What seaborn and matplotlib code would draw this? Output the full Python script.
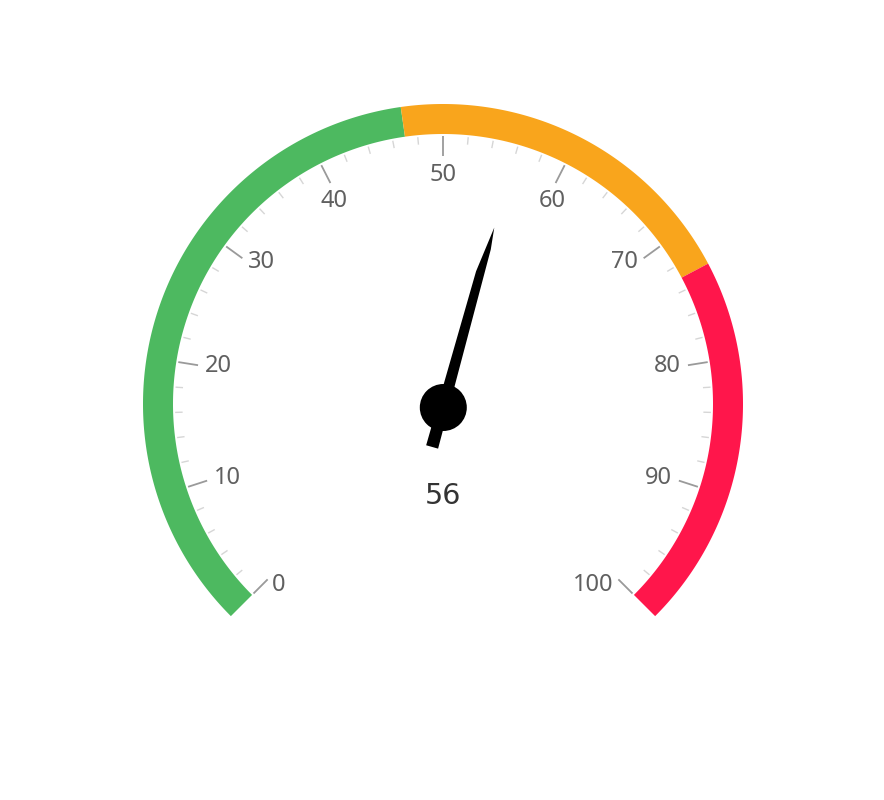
import numpy as np
import matplotlib
matplotlib.use("Agg")
import matplotlib.pyplot as plt
from matplotlib.patches import Circle, Polygon
import seaborn as sns

# gauge data
gauge_min, gauge_max = 0, 100
band_edges = [0, 47, 73, 100]
band_colors = ["#4DB960", "#F9A51C", "#FF164B"]
major_ticks = list(range(0, 101, 10))
minor_ticks = [v for v in range(0, 101, 2) if v % 10]
tick_labels = [str(v) for v in major_ticks]
needle_value = 56

sns.set_theme(style="white")
plt.rcParams['font.family'] = ['Noto Sans', 'DejaVu Sans']

fig = plt.figure(figsize=(8.84, 8), dpi=100)
ax = fig.add_axes([0, 0, 1, 1])
ax.set_xlim(0, 884)
ax.set_ylim(800, 0)
ax.axis('off')

# geometry (pixels)
cx, cy = 443, 404
R = 300
pivot = (443.3, 407.5)


def ang(v):
    return np.deg2rad(225 - (np.asarray(v) - gauge_min) / (gauge_max - gauge_min) * 270)


def pt(v, r):
    a = ang(v)
    return cx + r * np.cos(a), cy - r * np.sin(a)


# colour bands
for lo, hi, col in zip(band_edges[:-1], band_edges[1:], band_colors):
    t = np.linspace(lo, hi, 200)
    xo, yo = pt(t, R)
    xi, yi = pt(t[::-1], 0.9 * R)
    ax.fill(np.concatenate([xo, xi]), np.concatenate([yo, yi]), color=col, lw=0)

# ticks
for v in minor_ticks:
    x0, y0 = pt(v, 268)
    x1, y1 = pt(v, 260.5)
    ax.plot([x0, x1], [y0, y1], color="#d6d6d6", lw=1.0, solid_capstyle="butt")
for v in major_ticks:
    x0, y0 = pt(v, 268)
    x1, y1 = pt(v, 248)
    ax.plot([x0, x1], [y0, y1], color="#9a9a9a", lw=1.3, solid_capstyle="butt")

# tick labels: anchor point on a circle, alignment by direction
renderer = fig.canvas.get_renderer()
fs = 17
cap = 0.714 * fs * 100 / 72
r_lab = 240
for v, lab in zip(major_ticks, tick_labels):
    t = ax.text(0, 0, lab, fontsize=fs, fontweight="medium", color="#606060",
                ha="center", va="baseline")
    w = t.get_window_extent(renderer).width - 2
    a = ang(v)
    ux, uy = np.cos(a), -np.sin(a)
    px, py = cx + r_lab * ux, cy + r_lab * uy
    if ux < -0.5:
        px += w / 2
    elif ux > 0.5:
        px -= w / 2
    if uy < -0.8 or uy > 0.6:
        py += cap / 2
    else:
        py -= 3
    t.set_position((px, py + cap / 2))

# needle, from pivot towards the value on the dial
tx, ty = pt(needle_value, 186)
ph = np.arctan2(pivot[1] - ty, tx - pivot[0])
u = np.array([np.cos(ph), np.sin(ph)])
n = np.array([np.sin(ph), -np.cos(ph)])
shape = [(-41, -6.2), (140, -5.6), (187, 0.0), (165, 2.6), (-41, 6.2)]
pts = []
for al, p in shape:
    q = al * u + p * n
    pts.append((pivot[0] + q[0], pivot[1] - q[1]))
ax.add_patch(Polygon(pts, closed=True, color="black", lw=0))
ax.add_patch(Circle(pivot, 23.5, color="black", lw=0))

# value
ax.text(cx, cy + 0.3 * R + 10, str(needle_value), fontsize=20.5, color="#333333",
        family=["DejaVu Sans"], ha="center", va="baseline")

fig.savefig("out.png", dpi=100, facecolor="white")
